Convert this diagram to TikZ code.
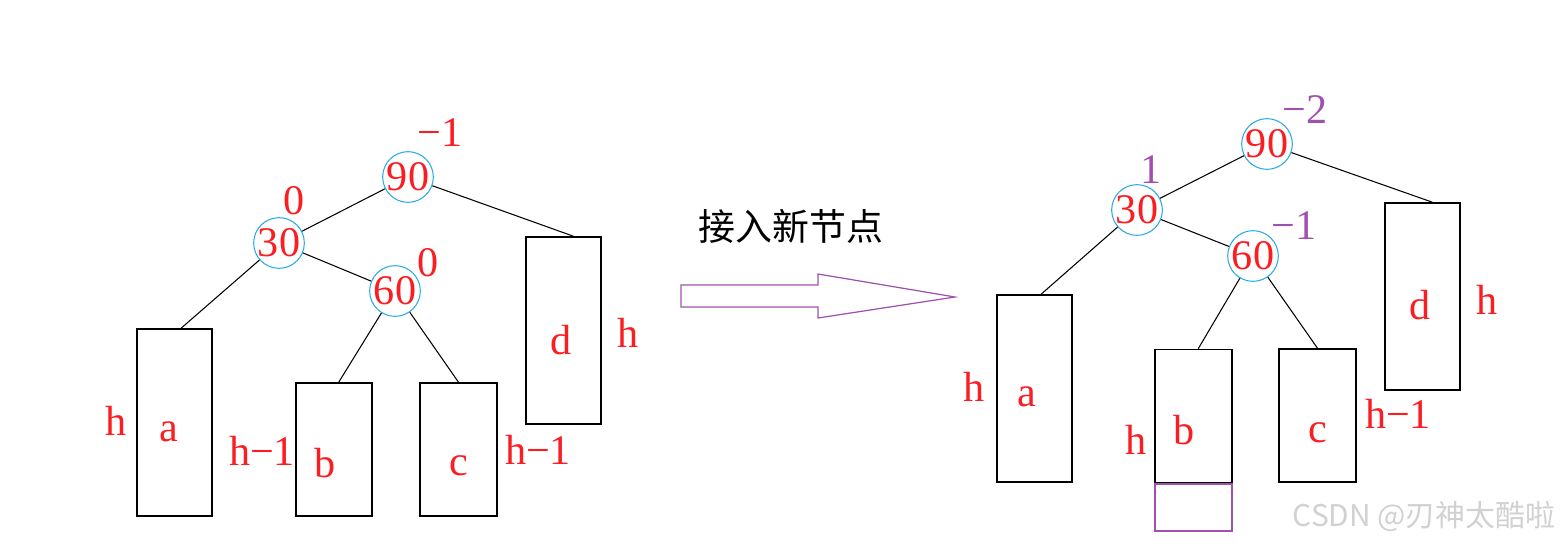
\documentclass[tikz,border=0pt]{standalone}
\usepackage{fontspec}
\setmainfont{Liberation Serif}
\newfontfamily\cjk{Noto Sans CJK SC}
\usepackage{tikz}
\usetikzlibrary{positioning}

\definecolor{numred}{RGB}{250,30,35}
\definecolor{balpurple}{RGB}{160,80,175}
\definecolor{ringblue}{RGB}{40,170,230}

\tikzset{
    keynode/.style={draw=ringblue, circle, line width=0.6pt, inner sep=0pt,
        minimum size=0.92cm, text=numred, font=\fontsize{24}{24}\selectfont},
    subtree/.style={draw, rectangle, line width=0.9pt, inner sep=0pt},
    tallbox/.style={subtree, minimum width=1.5cm, minimum height=3.74cm},
    shortbox/.style={subtree, minimum width=1.53cm, minimum height=2.66cm},
    redtext/.style={text=numred, inner sep=0pt, font=\fontsize{24}{24}\selectfont},
    baltext/.style={text=balpurple, inner sep=0pt, font=\fontsize{24}{24}\selectfont},
    link/.style={line width=0.6pt}
}

\begin{document}
\begin{tikzpicture}[x=0.02cm, y=-0.02cm]
    \useasboundingbox (0,0) rectangle (1561,544);

    % Tree before insertion
    \node [keynode] (L90) at (408,177) {90};
    \node [keynode] (L30) at (279,243) {30};
    \node [keynode] (L60) at (395,291) {60};
    \node [tallbox] (La) at (174.5,422.5) {};
    \node [shortbox] (Lb) at (334,449.5) {};
    \node [shortbox] (Lc) at (458.5,449.5) {};
    \node [tallbox] (Ld) at (563.5,330.5) {};

    \draw [link] (L90) -- (L30);
    \draw [link] (L90) -- (Ld.84);
    \draw [link] (L30) -- (La.86);
    \draw [link] (L30) -- (L60);
    \draw [link] (L60) -- (Lb.86);
    \draw [link] (L60) -- (Lc.90);

    % balance factors and heights
    \node [redtext] (Lf90) at (440,133) {−1};
    \node [redtext] (Lf30) at (294,201) {0};
    \node [redtext] (Lf60) at (428,263) {0};
    \node [redtext] (Lha) at (116,421) {h};
    \node [redtext] (Lhb) at (262,451) {h−1};
    \node [redtext] (Lhc) at (538,450) {h−1};
    \node [redtext] (Lhd) at (628,333) {h};
    \node [redtext] (Lna) at (169,432) {a};
    \node [redtext] (Lnb) at (325,463) {b};
    \node [redtext] (Lnc) at (459,466) {c};
    \node [redtext] (Lnd) at (561,340) {d};

    % Insertion step
    \node [font=\cjk\fontsize{21}{21}\selectfont] (step) at (791,226) {接入新节点};
    \draw [balpurple, line width=0.7pt]
        (681,285) -- (818,285) -- (818,274) -- (955,297)
        -- (818,318) -- (818,307) -- (681,307) -- cycle;

    % Tree after insertion
    \node [keynode] (R90) at (1267,144) {90};
    \node [keynode] (R30) at (1137,210) {30};
    \node [keynode] (R60) at (1253,256) {60};
    \node [tallbox] (Ra) at (1034.5,388.5) {};
    \node [shortbox] (Rb) at (1193.5,416) {};
    \node [shortbox] (Rc) at (1317.5,415.5) {};
    \node [tallbox] (Rd) at (1422.5,296.5) {};
    \node [subtree, draw=balpurple, minimum width=1.53cm,
        minimum height=0.94cm, below=0pt of Rb] (Rnew) {};

    \draw [link] (R90) -- (R30);
    \draw [link] (R90) -- (Rd.84);
    \draw [link] (R30) -- (Ra.86);
    \draw [link] (R30) -- (R60);
    \draw [link] (R60) -- (Rb.86);
    \draw [link] (R60) -- (Rc.90);

    % new balance factors and heights
    \node [baltext] (Rf90) at (1305,110) {−2};
    \node [baltext] (Rf30) at (1151,170) {1};
    \node [baltext] (Rf60) at (1294,226) {−1};
    \node [redtext] (Rha) at (974,387) {h};
    \node [redtext] (Rhb) at (1136,440) {h};
    \node [redtext] (Rhc) at (1398,414) {h−1};
    \node [redtext] (Rhd) at (1487,300) {h};
    \node [redtext] (Rna) at (1027,397) {a};
    \node [redtext] (Rnb) at (1184,430) {b};
    \node [redtext] (Rnc) at (1318,433) {c};
    \node [redtext] (Rnd) at (1420,305) {d};

    \node [text=black!18, font=\cjk\fontsize{17}{17}\selectfont] (mark)
        at (1424,516) {CSDN @刃神太酷啦};
\end{tikzpicture}
\end{document}
